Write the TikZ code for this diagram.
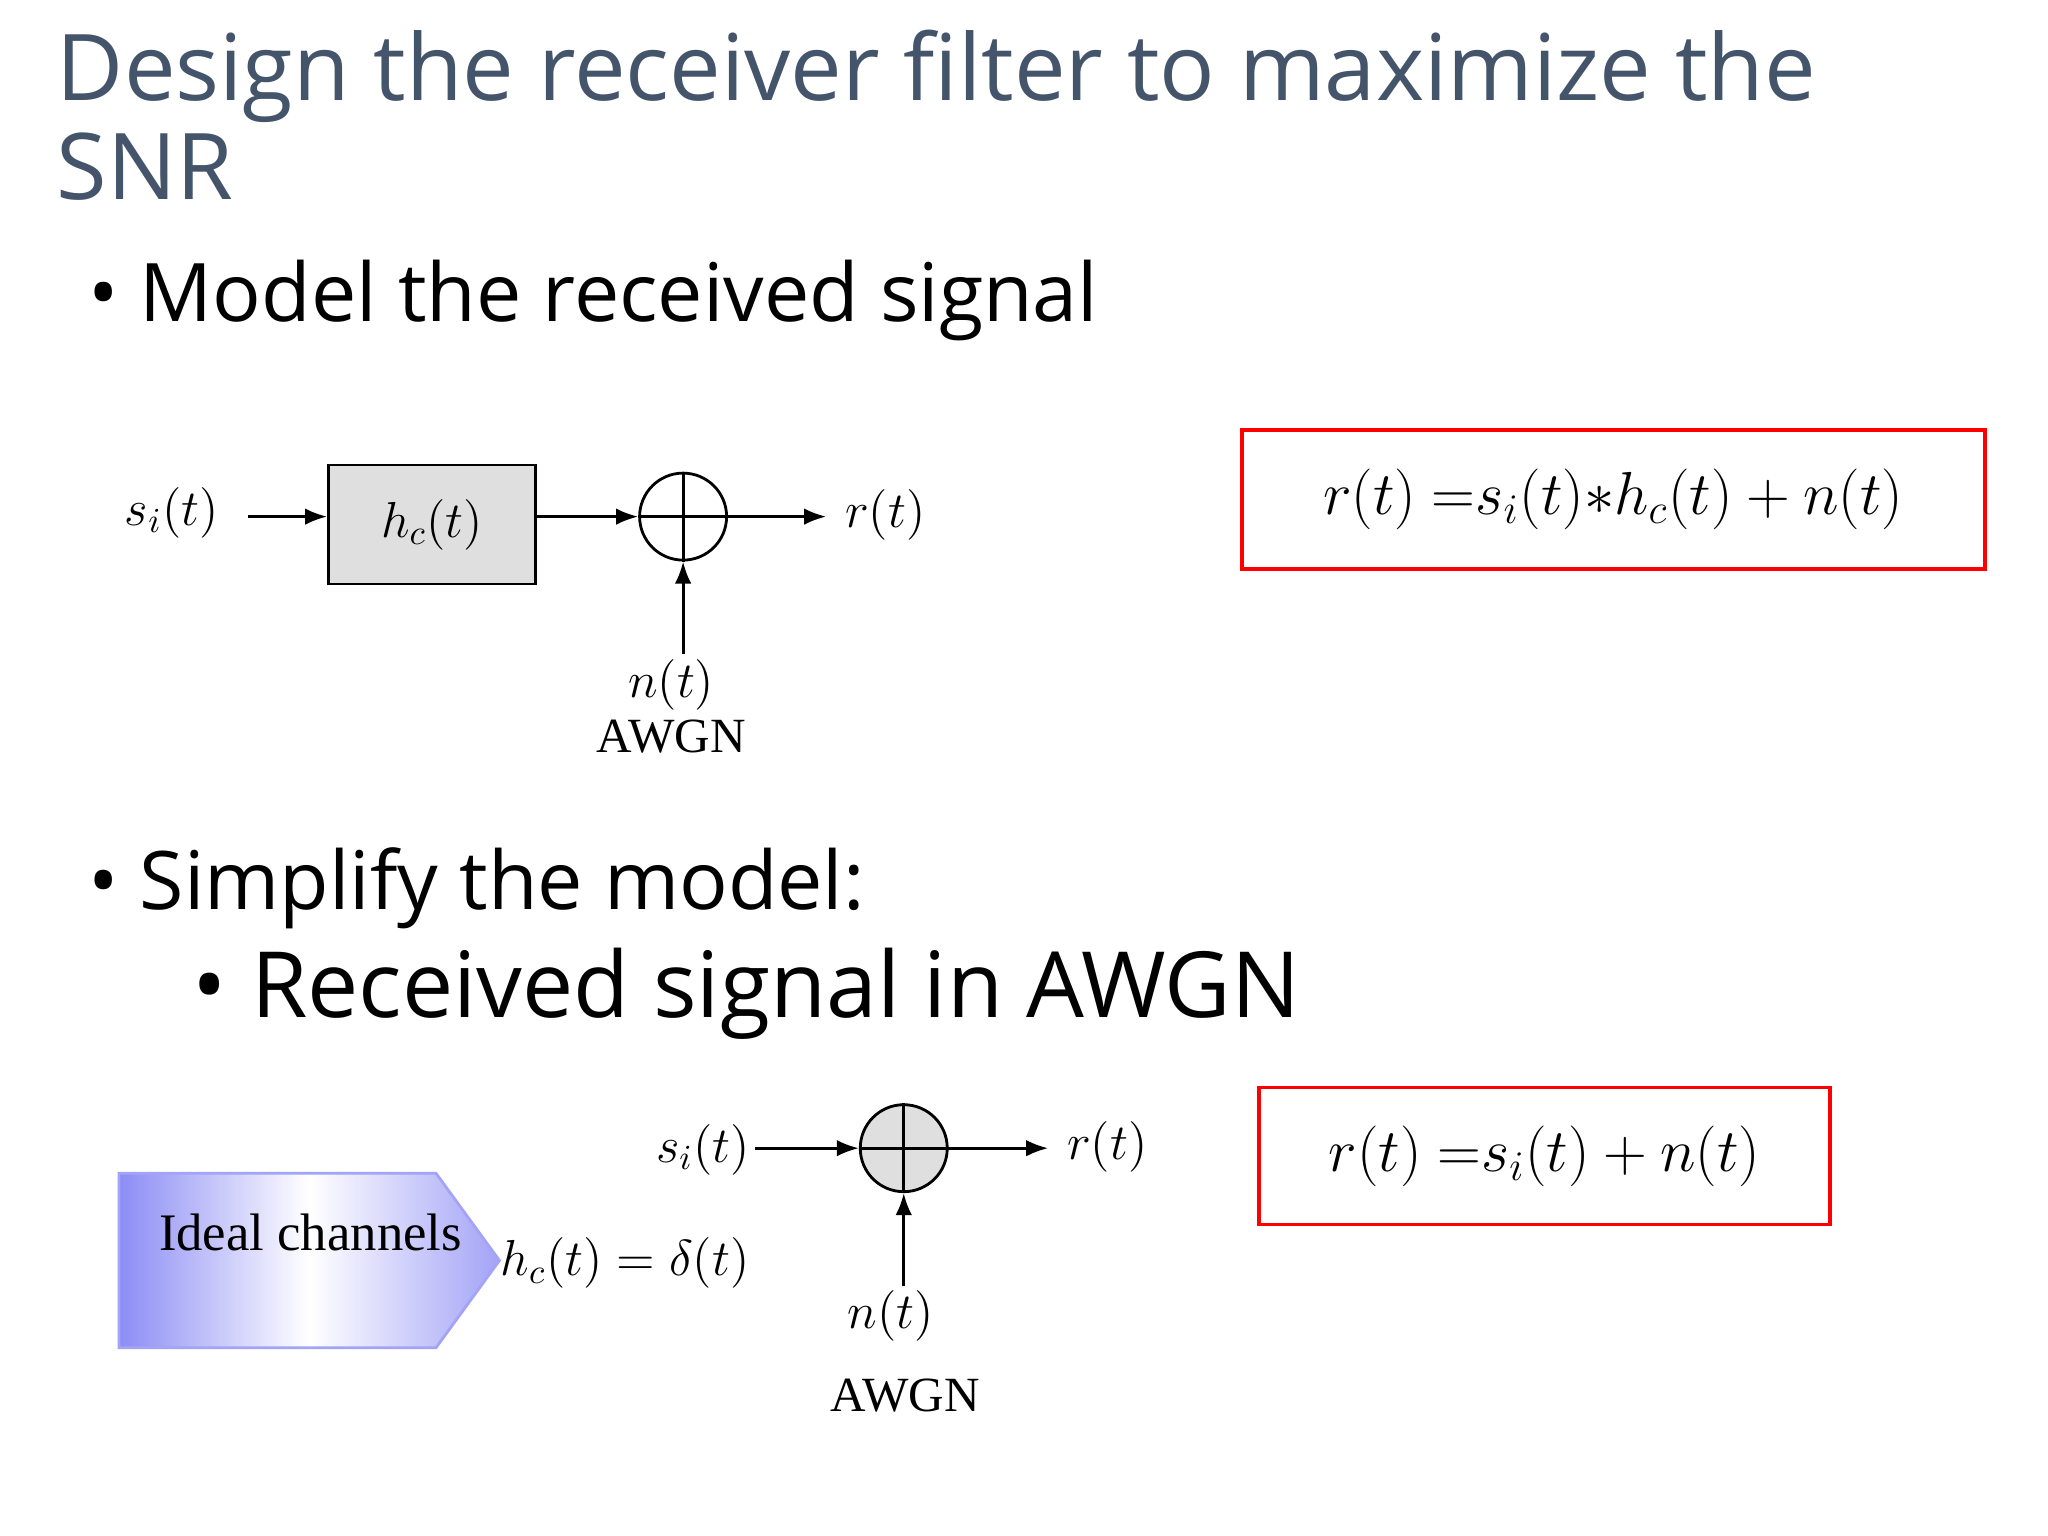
\documentclass[tikz,border=0pt]{standalone}
\usepackage{fontspec}
\setmainfont{Liberation Serif}
\newfontfamily\slidefont{Open Sans}
\usetikzlibrary{arrows.meta, positioning}
\definecolor{titlegray}{RGB}{68,84,106}
\definecolor{chanblue}{RGB}{140,140,245}
\begin{document}
\begin{tikzpicture}[
    x=0.013213cm, y=-0.013213cm,
    line width=0.8pt,
    >={Latex[length=2.2mm]},
    title/.style={anchor=base west, inner sep=0, font=\slidefont\fontsize{26.2}{31}\selectfont, text=titlegray},
    bullet/.style={anchor=base west, inner sep=0, font=\slidefont\fontsize{23}{27}\selectfont},
    subbullet/.style={anchor=base west, inner sep=0, font=\slidefont\fontsize{26}{30}\selectfont},
    lbl/.style={font=\fontsize{14}{16}\selectfont, inner sep=1pt},
    block/.style={draw, fill=gray!25, minimum width=2.07cm, minimum height=1.19cm, font=\fontsize{14}{16}\selectfont},
    adder/.style={draw, circle, minimum size=0.87cm, inner sep=0},
    eqbox/.style={draw=red, line width=1pt, font=\fontsize{18}{20}\selectfont, inner sep=0},
    arrow/.style={->}
]
\useasboundingbox (0,0) rectangle (1550,1162);
% title and bullets
\node[title] (t1) at (42,76) {Design the receiver filter to maximize the};
\node[title] (t2) at (42,151) {SNR};
\node[bullet] (b1) at (66,243) {• Model the received signal};
\node[bullet] (b2) at (66,688) {• Simplify the model:};
\node[subbullet] (b3) at (145,770) {• Received signal in AWGN};
% first model
\node[lbl] (si) at (130,388) {$s_i(t)$};
\node[block] (hc) at (327,397) {$h_c(t)$};
\node[adder] (sum) at (517,391) {};
\draw (sum.north) -- (sum.south) (sum.west) -- (sum.east);
\node[lbl] (r) at (670,390) {$r(t)$};
\node[lbl] (n) at (508,518) {$n(t)$};
\node[lbl, below=0pt of n] (awgn) {AWGN};
\draw[arrow, shorten <=7pt] (si.east |- sum) -- (hc.west |- sum);
\draw[arrow] (hc.east |- sum) -- (sum.west);
\draw[arrow, shorten >=4pt] (sum.east) -- (r.west |- sum);
\draw[arrow] (n.north -| sum) -- (sum.south);
\node[eqbox, minimum width=7.43cm, minimum height=1.39cm] (eq1) at (1221,378)
  {$r(t)\ {=} s_i(t){\ast}h_c(t) + n(t)$};
% simplified model
\draw[draw=chanblue!80, left color=chanblue, right color=chanblue!80, middle color=white]
  (90,888) -- (330,888) -- (378,954) -- (330,1020) -- (90,1020) -- cycle;
\node[lbl, font=\fontsize{15}{17}\selectfont] (ideal) at (235,933) {Ideal channels};
\node[lbl] (delta) at (473,956) {$h_c(t) = \delta(t)$};
\node[lbl] (si2) at (532,870) {$s_i(t)$};
\node[adder, fill=gray!25] (sum2) at (684,869) {};
\draw (sum2.north) -- (sum2.south) (sum2.west) -- (sum2.east);
\node[lbl] (r2) at (838,868) {$r(t)$};
\node[lbl] (n2) at (674,996) {$n(t)$};
\node[lbl] (awgn2) at (685,1056) {AWGN};
\draw[arrow] (si2.east |- sum2) -- (sum2.west);
\draw[arrow, shorten >=4pt] (sum2.east) -- (r2.west |- sum2);
\draw[arrow] (n2.north -| sum2) -- (sum2.south);
\node[eqbox, minimum width=5.71cm, minimum height=1.37cm] (eq2) at (1169,875)
  {$r(t)\ {=} s_i(t) + n(t)$};
\end{tikzpicture}
\end{document}
